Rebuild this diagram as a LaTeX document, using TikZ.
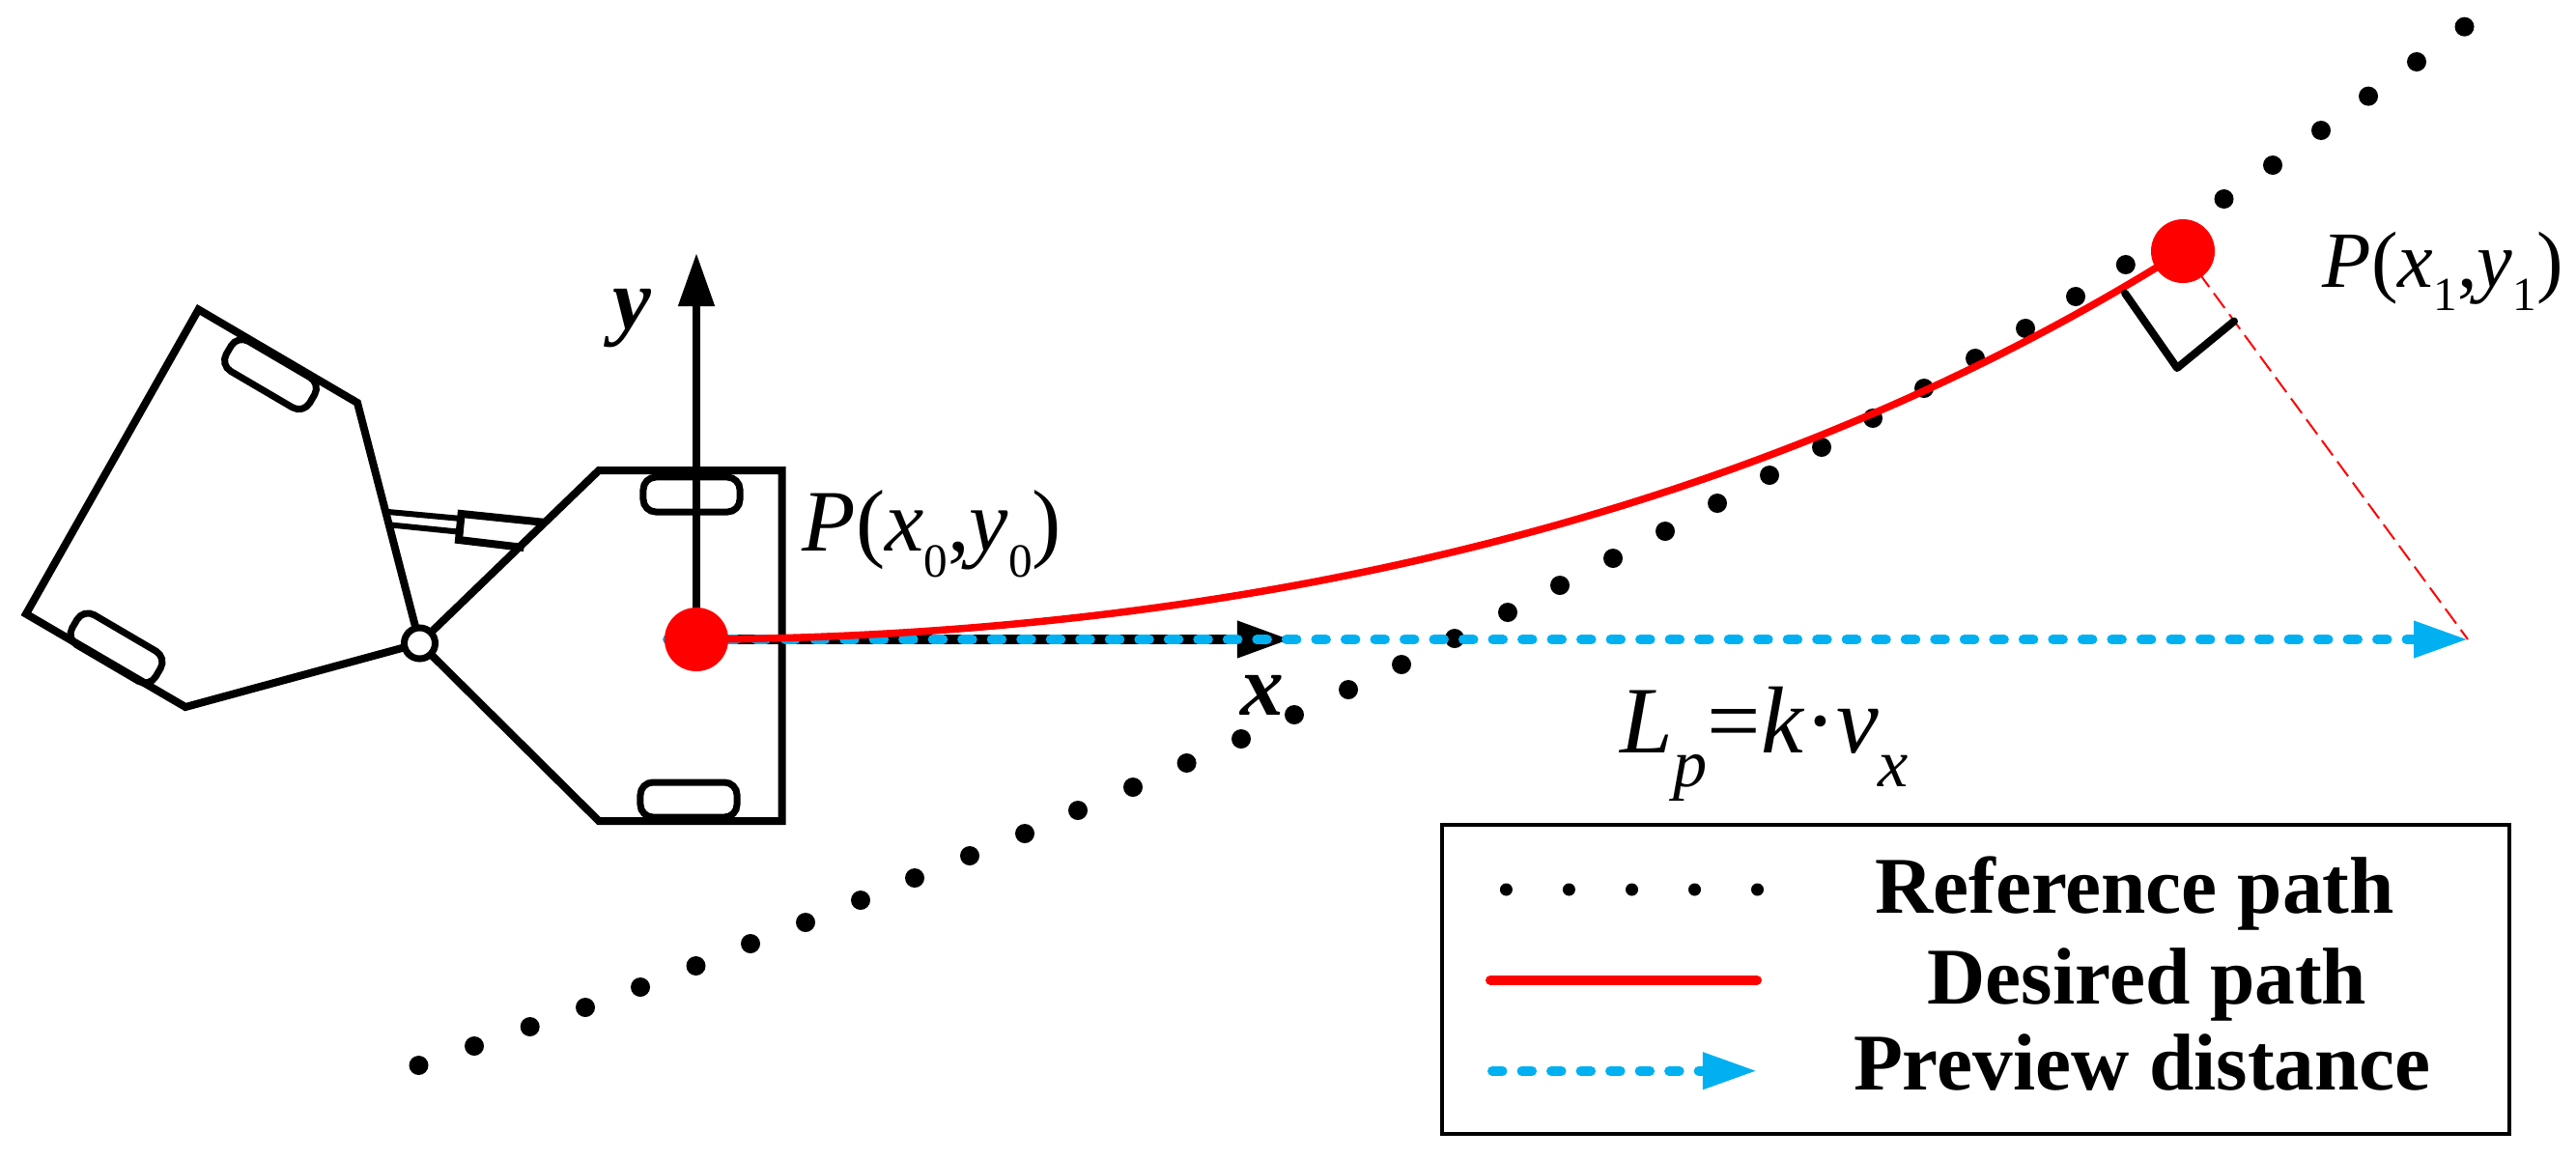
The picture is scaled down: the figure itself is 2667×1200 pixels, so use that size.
\documentclass[tikz,border=0pt]{standalone}
\usepackage{fontspec}
\setmainfont{Liberation Serif}
\usetikzlibrary{arrows.meta}
\definecolor{previewblue}{RGB}{0,176,240}
\newcommand{\lowidx}[1]{\raisebox{-.3em}{\fontsize{14}{14}\selectfont #1}}
\newcommand{\lowvar}[1]{\raisebox{-.36em}{\fontsize{20}{20}\selectfont\itshape #1}}
\begin{document}
\begin{tikzpicture}[x=0.01cm, y=-0.01cm,
        body/.style = {line width=0.8mm, miter limit=10},
        wheelbox/.style = {draw, line width=0.7mm, rounded corners=1.3mm, minimum width=10mm, minimum height=3.6mm, inner sep=0pt},
        pathdot/.style = {circle, fill=black, minimum size=2mm, inner sep=0pt},
        keydot/.style = {circle, fill=black, minimum size=1.3mm, inner sep=0pt},
        reddot/.style = {circle, fill=red, minimum size=6.6mm, inner sep=0pt},
        axis/.style = {-{Triangle[length=5.5mm, width=3.6mm]}, line width=0.8mm},
        desired/.style = {red, line width=0.75mm},
        preview/.style = {previewblue, line width=1mm, line cap=round, dash pattern=on 1.05mm off 2mm, -{Triangle[length=5.6mm, width=3.6mm]}},
        mathlabel/.style = {anchor=base west, inner sep=0pt, font=\fontsize{23.5}{23.5}\selectfont},
        keylabel/.style = {anchor=base, inner sep=0pt, font=\fontsize{23.7}{23.7}\selectfont\bfseries}]
        \useasboundingbox (0,0) rectangle (2667,1200);
        \coordinate (p0) at (721,662);
        \coordinate (p1) at (2260,260);
        \coordinate (hinge) at (434.5,666);
        \coordinate (xtip) at (1336,662);
        \coordinate (ytip) at (721,262);
        \coordinate (bluestart) at (691,662);
        \coordinate (bluetip) at (2555,662);
        % trailer and tractor
        \coordinate (a) at (205.5,320.5);
        \coordinate (b) at (370,417);
        \coordinate (d) at (192,732);
        \coordinate (e) at (27,635.6);
        \coordinate (f) at (620,487);
        \coordinate (g) at (809.5,487);
        \coordinate (h) at (809.5,850);
        \coordinate (i) at (620,850);
        \draw[body] (hinge) -- (b) -- (a) -- (e) -- (d) -- cycle;
        \draw[body] (hinge) -- (f) -- (g) -- (h) -- (i) -- cycle;
        \node[wheelbox, rotate=-30.4] (w1) at (280,387.6) {};
        \node[wheelbox, rotate=-30.4] (w2) at (120.5,671) {};
        \node[wheelbox] (w3) at (716,512) {};
        \node[wheelbox] (w4) at (713,828) {};
        % cylinder between the two bodies
        \coordinate (r1) at (402,530);
        \coordinate (r2) at (477.6,537);
        \coordinate (r3) at (404.7,543.5);
        \coordinate (r4) at (475,550.6);
        \coordinate (c1) at (565,541);
        \coordinate (c2) at (477.6,532);
        \coordinate (c3) at (475,559);
        \coordinate (c4) at (542.5,567);
        \draw[line width=0.6mm] (r1) -- (r2);
        \draw[line width=0.6mm] (r3) -- (r4);
        \draw[body] (c1) -- (c2) -- (c3) -- (c4);
        \node[circle, draw, fill=white, line width=0.7mm, minimum size=3.2mm, inner sep=0pt] (pivot) at (hinge) {};
        % reference path
        \foreach \px/\py [count=\i] in {433.5/1103, 491/1083, 548.7/1063, 606/1043, 663/1022, 720.5/1000, 777/977, 834/955, 891/932, 947/909, 1004/886, 1061/863, 1116/839, 1173/815, 1228.6/790, 1285/765, 1340/740, 1396/714, 1451/688, 1506/661, 1561/634, 1615/606, 1670/578, 1724/550, 1778/521, 1832/492, 1886/463, 1939/433, 1992/402, 2045/371, 2097/340, 2149/307, 2200.8/274, 2302.5/206, 2353/171, 2403/135, 2452/99.6, 2502/64, 2551.5/27.7}
            \node[pathdot] (d\i) at (\px,\py) {};
        \draw[axis] (p0) -- (ytip);
        \draw[axis, line width=1mm] (p0) -- (xtip);
        \draw[preview] (bluestart) -- (bluetip);
        \draw[desired] (p0) .. controls (1180,660) and (1760,575) .. (p1);
        \draw[red, line width=0.2mm, dash pattern=on 1.9mm off 0.8mm] (p1) -- (bluetip);
        \node[reddot] (p0dot) at (p0) {};
        \node[reddot] (p1dot) at (p1) {};
        % right angle mark
        \coordinate (m1) at (2200,303.6);
        \coordinate (m2) at (2254,381);
        \coordinate (m3) at (2313,332.6);
        \draw[line width=0.8mm, line cap=round, line join=round] (m1) -- (m2) -- (m3);
        % labels
        \node[mathlabel, font=\fontsize{25.5}{25.5}\selectfont\bfseries\itshape, anchor=base] (ylab) at (654,340) {y};
        \node[mathlabel, font=\fontsize{25.5}{25.5}\selectfont\bfseries\itshape, anchor=base] (xlab) at (1307,740) {x};
        \node[mathlabel, font=\fontsize{25.8}{25.8}\selectfont] (p0lab) at (830,570) {\textit{P}(\textit{x}\lowidx{0},\textit{y}\lowidx{0})};
        \node[mathlabel] (p1lab) at (2404,297) {\textit{P}(\textit{x}\lowidx{1},\textit{y}\lowidx{1})};
        \node[mathlabel, font=\fontsize{28}{28}\selectfont] (lplab) at (1677,779) {\textit{L}\lowvar{p}=\textit{k}·\textit{v}\lowvar{x}};
        % legend
        \node[draw, line width=0.35mm, minimum width=110.4mm, minimum height=32mm, inner sep=0pt] (legend) at (2045.5,1014) {};
        \foreach \kx [count=\i] in {1559.4,1624.4,1689.5,1754.5,1819.5}
            \node[keydot] (k\i) at (\kx,921) {};
        \coordinate (reda) at (1543,1014.7);
        \coordinate (redb) at (1819,1014.7);
        \coordinate (bluea) at (1545,1108.7);
        \coordinate (blueb) at (1819,1108.7);
        \draw[red, line width=1mm, line cap=round] (reda) -- (redb);
        \draw[preview] (bluea) -- (blueb);
        \node[keylabel] (key1) at (2210,945) {Reference path};
        \node[keylabel] (key2) at (2223,1039) {Desired path};
        \node[keylabel] (key3) at (2218,1128) {Preview distance};
\end{tikzpicture}
\end{document}
